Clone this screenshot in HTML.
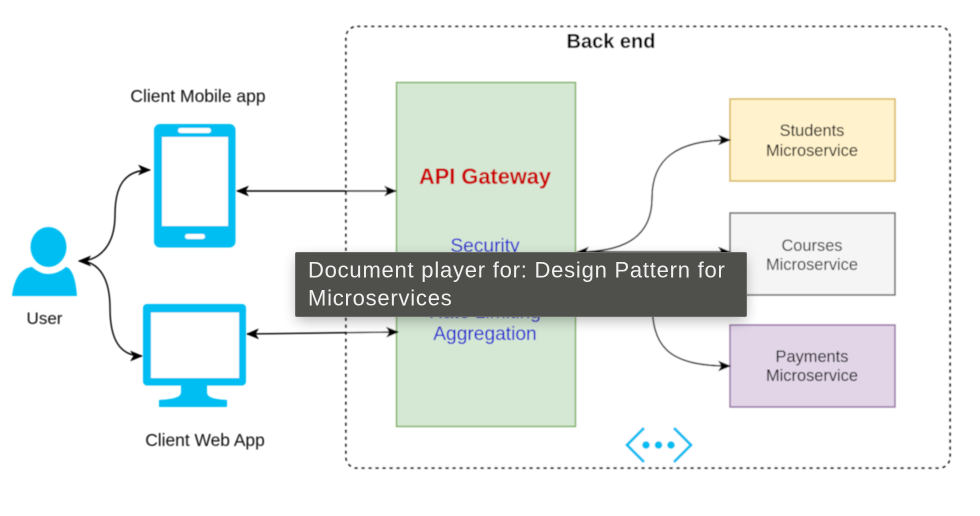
<!DOCTYPE html>
<html>
<head>
<meta charset="utf-8">
<style>
html,body{margin:0;padding:0;background:#fff;width:980px;height:516px;overflow:hidden}
svg{display:block;position:absolute;left:0;top:0}
text{font-family:"Liberation Sans",sans-serif}
</style>
</head>
<body>
<svg width="980" height="516" viewBox="0 0 980 516" xmlns="http://www.w3.org/2000/svg">
<defs>
<marker id="a" viewBox="0 0 12 10" refX="11" refY="5" markerWidth="13" markerHeight="11" markerUnits="userSpaceOnUse" orient="auto-start-reverse">
<path d="M0 0L12 5L0 10L3 5Z" fill="#000"/>
</marker>
<filter id="b" x="-2%" y="-2%" width="104%" height="104%"><feGaussianBlur stdDeviation="0.5"/></filter>
<filter id="t" x="-2%" y="-10%" width="104%" height="120%"><feGaussianBlur stdDeviation="0.3"/></filter>
<filter id="s" x="-10%" y="-30%" width="120%" height="160%"><feGaussianBlur stdDeviation="7"/></filter>
</defs>
<g filter="url(#b)">
<rect x="346" y="26.5" width="604" height="441.5" rx="11" fill="#fff" stroke="#000" stroke-width="1.6" stroke-dasharray="3.5 3.5"/>
<text x="611" y="48" font-size="20" font-weight="bold" text-anchor="middle" fill="#000">Back end</text>

<rect x="396.5" y="82.5" width="179" height="344" fill="#d5e8d4" stroke="#82b366" stroke-width="1.5"/>
<text x="485" y="184" font-size="21.8" font-weight="bold" text-anchor="middle" fill="#cc0000">API Gateway</text>
<g font-size="19.2" text-anchor="middle" fill="#1414d0">
<text x="485" y="252">Security</text>
<text x="485" y="318">Rate Limiting</text>
<text x="485" y="340">Aggregation</text>
</g>

<rect x="730" y="99" width="165" height="82" fill="#fff2cc" stroke="#d6b656" stroke-width="1.5"/>
<rect x="730" y="213" width="165" height="82" fill="#f5f5f5" stroke="#666" stroke-width="1.5"/>
<rect x="730" y="325" width="165" height="82" fill="#e1d5e7" stroke="#9673a6" stroke-width="1.5"/>
<g font-size="16.4" text-anchor="middle" fill="#111">
<text x="812" y="136">Students</text>
<text x="812" y="156">Microservice</text>
<text x="812" y="362">Payments</text>
<text x="812" y="381">Microservice</text>
</g>
<g font-size="16.4" text-anchor="middle" fill="#333">
<text x="812" y="251">Courses</text>
<text x="812" y="270">Microservice</text>
</g>

<!-- connectors -->
<g fill="none" stroke="#000" stroke-width="1.4">
<path d="M79 261C100 261 115 245 115 215C115 185 125 170 150 170" marker-start="url(#a)" marker-end="url(#a)"/>
<path d="M79 261C100 261 110 280 110 308C110 340 120 356 142 356" marker-start="url(#a)" marker-end="url(#a)"/>
<path d="M237 191H396" marker-start="url(#a)" marker-end="url(#a)"/>
<path d="M247 334L398 332" marker-start="url(#a)" marker-end="url(#a)"/>
<path d="M577 252C620 252 652 240 652 198C652 160 675 140 730 140" marker-start="url(#a)" marker-end="url(#a)"/>
<path d="M577 252H730" marker-end="url(#a)"/>
<path d="M652 300C652 345 665 366 730 366" marker-end="url(#a)"/>
</g>

<!-- user -->
<g fill="#00bef2">
<ellipse cx="48.5" cy="247" rx="18" ry="20"/>
<path d="M12 296C14 280 20 268 32 267C38 272 43 274 48 274C54 274 60 272 66 267C72 268 76 280 77 296Z"/>
</g>
<text x="44.5" y="324" font-size="17" text-anchor="middle" fill="#111">User</text>

<!-- phone -->
<rect x="154" y="124" width="81.5" height="123.5" rx="6" fill="#00bef2"/>
<rect x="162" y="137" width="66" height="89" fill="#fff"/>
<rect x="178" y="128" width="33" height="5" rx="2.5" fill="#fff"/>
<rect x="185" y="234" width="20" height="5" rx="2.5" fill="#fff"/>
<text x="198" y="102" font-size="17.5" text-anchor="middle" fill="#111">Client Mobile app</text>

<!-- monitor -->
<rect x="143" y="304" width="103" height="81.5" rx="4" fill="#00bef2"/>
<rect x="151" y="312.5" width="88" height="65.5" fill="#fff"/>
<path d="M181 385H207V392C207 397 212 399 227 400V407H159V400C175 399 181 397 181 392Z" fill="#00bef2"/>
<text x="205" y="446" font-size="17.4" text-anchor="middle" fill="#111">Client Web App</text>

<!-- icon -->
<g fill="none" stroke="#00bef2" stroke-width="2.8">
<path d="M644 428L627 445L644 462"/>
<path d="M674 428L691 445L674 462"/>
</g>
<g fill="#00bef2">
<circle cx="646" cy="445" r="3.8"/>
<circle cx="658.5" cy="445" r="3.8"/>
<circle cx="671" cy="445" r="3.8"/>
</g>
</g>

<!-- tooltip -->
<rect x="297" y="258" width="448" height="62" fill="#000" opacity="0.3" filter="url(#s)"/>
<rect x="295.5" y="252.5" width="451" height="64" rx="1.5" fill="#4f4f4b" stroke="#6a6a66" stroke-width="1"/>
<g font-size="22" fill="#f0f0f0" filter="url(#t)" letter-spacing="0.77">
<text x="308" y="277.5">Document player for: Design Pattern for</text>
<text x="308" y="305.5">Microservices</text>
</g>
</svg>
</body>
</html>
